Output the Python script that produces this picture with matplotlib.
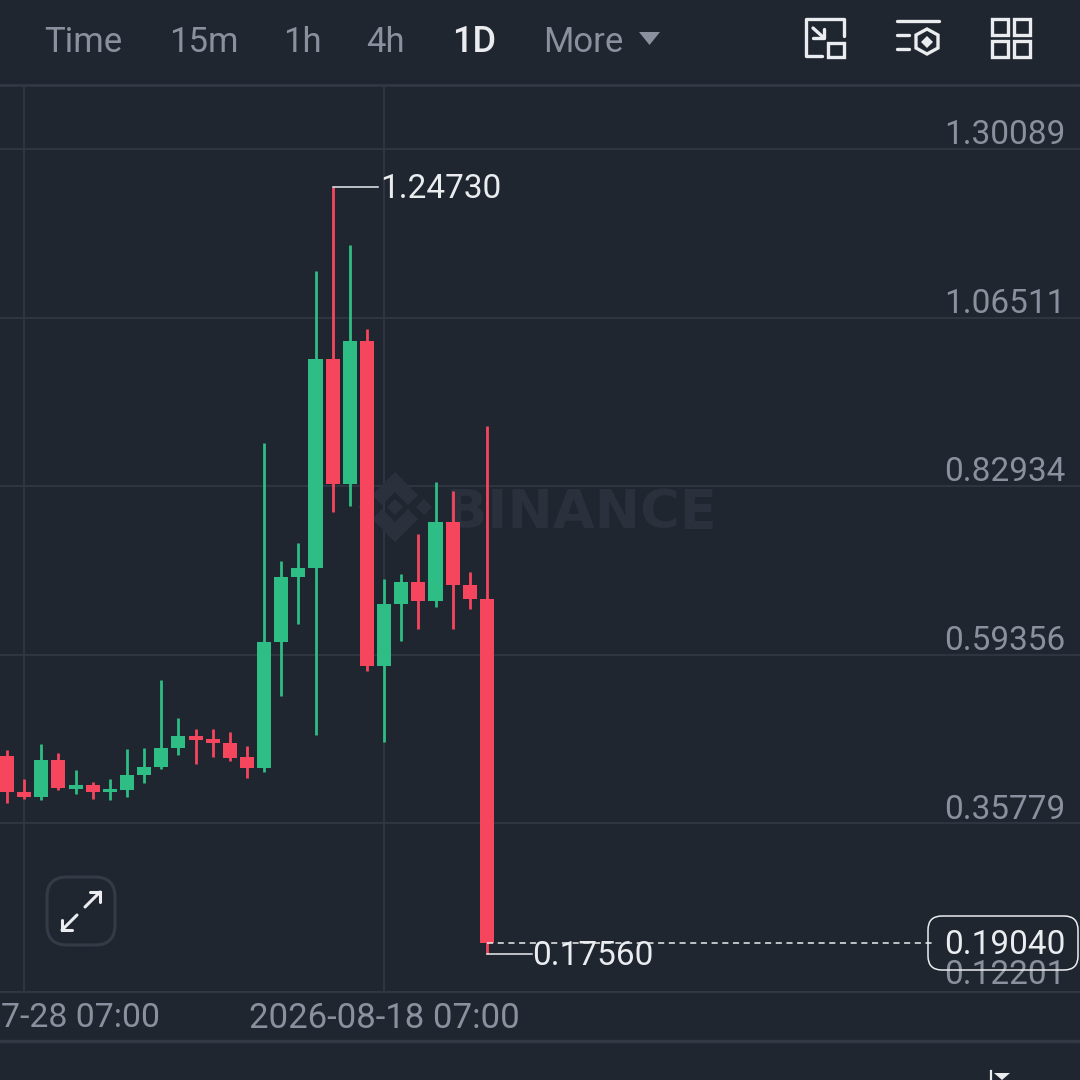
import matplotlib
matplotlib.use("Agg")
import matplotlib.pyplot as plt
from matplotlib.patches import FancyBboxPatch, Polygon, Rectangle

# daily candles, oldest first
opens = [0.4520, 0.4016, 0.3946, 0.4464, 0.4058, 0.4114, 0.4016, 0.4044, 0.4254, 0.4366,
         0.4632, 0.4800, 0.4758, 0.4702, 0.4506, 0.4352, 0.6114, 0.7023, 0.7149, 1.0072,
         0.8324, 1.0324, 0.5779, 0.6646, 0.6953, 0.6688, 0.7792, 0.6911, 0.6715]
closes = [0.4016, 0.3946, 0.4464, 0.4072, 0.4114, 0.4016, 0.4058, 0.4254, 0.4366, 0.4632,
          0.4800, 0.4744, 0.4702, 0.4492, 0.4352, 0.6114, 0.7023, 0.7149, 1.0072, 0.8324,
          1.0324, 0.5779, 0.6646, 0.6953, 0.6688, 0.7792, 0.6911, 0.6715, 0.1904]
highs = [0.4604, 0.4198, 0.4688, 0.4562, 0.4324, 0.4156, 0.4198, 0.4618, 0.4632, 0.5583,
         0.5052, 0.4898, 0.4898, 0.4856, 0.4660, 0.8897, 0.7247, 0.7499, 1.1303, 1.2473,
         1.1666, 1.0492, 0.6995, 0.7065, 0.7625, 0.8352, 0.8226, 0.7093, 0.9135]
lows = [0.3862, 0.3918, 0.3904, 0.4044, 0.3988, 0.3918, 0.3904, 0.3946, 0.4142, 0.4338,
        0.4534, 0.4408, 0.4506, 0.4450, 0.4212, 0.4296, 0.5359, 0.6366, 0.4814, 0.7932,
        0.8016, 0.5709, 0.4716, 0.6128, 0.6296, 0.6604, 0.6296, 0.6576, 0.1756]

price_ticks = [1.30089, 1.06511, 0.82934, 0.59356, 0.35779, 0.12201]
date_tick_pos = [1, 22]
date_tick_labels = ["7-28 07:00", "2026-08-18 07:00"]
last_price = 0.19040
intervals = ["Time", "15m", "1h", "4h", "1D", "More"]

BG = "#1f2630"
GRID = "#323944"
GREEN = "#2ebd85"
RED = "#f6465d"
MUTED = "#8a919e"
WHITE = "#eaecef"
WATERMARK = "#2a313c"
FONT = "Roboto"
NUM_SIZE = 24

plt.rcParams["font.family"] = [FONT, "DejaVu Sans"]

fig = plt.figure(figsize=(10.8, 10.8), dpi=100, facecolor=BG)

# chart area runs the full width, between the two divider lines
ax = fig.add_axes([0, 88 / 1080, 1, 907 / 1080], facecolor=BG)
ax.set_xlim(-0.408, 62.6)
ax.set_ylim(0.12201, 1.39045)
ax.set_axis_off()

# pixel overlay for the app chrome
ui = fig.add_axes([0, 0, 1, 1], facecolor="none")
ui.set_xlim(0, 1080)
ui.set_ylim(1080, 0)
ui.set_axis_off()

for p in price_ticks:
    # the bottom label sits a little higher above its line
    lift = 12 if p == price_ticks[-1] else 10
    ax.axhline(p, color=GRID, lw=1.2, zorder=1)
    ax.annotate(f"{p:.5f}", xy=(0.9865, p), xycoords=ax.get_yaxis_transform(),
                xytext=(0, lift), textcoords="offset points",
                ha="right", va="center", color=MUTED, fontsize=NUM_SIZE, zorder=6)
for d in date_tick_pos:
    ax.axvline(d, color=GRID, lw=1.2, zorder=1)

# watermark, under the candles
ax.text(0.413, 0.5285, "BINANCE", transform=ax.transAxes, color=WATERMARK, fontsize=39,
        family="DejaVu Sans", fontweight="bold", va="center", ha="left", zorder=2)
for pts in ([(395, 472), (418, 495), (408, 505), (395, 492), (382, 505), (372, 495)],
            [(395, 542), (418, 519), (408, 509), (395, 522), (382, 509), (372, 519)],
            [(395, 499), (403, 507), (395, 515), (387, 507)],
            [(424, 499), (432, 507), (424, 515), (416, 507)],
            [(366, 499), (374, 507), (366, 515), (358, 507)]):
    ax.add_patch(Polygon(pts, closed=True, color=WATERMARK, lw=0, zorder=2, transform=ui.transData))

for i in range(len(opens)):
    color = GREEN if closes[i] >= opens[i] else RED
    ax.vlines(i, lows[i], highs[i], color=color, lw=2.0, zorder=3)
    ax.bar(i, abs(closes[i] - opens[i]), width=0.82, bottom=min(opens[i], closes[i]),
           color=color, zorder=4)

# high and low markers
i_high = highs.index(max(highs))
i_low = lows.index(min(lows))
ax.plot([i_high, i_high + 2.65], [highs[i_high]] * 2, color=WHITE, lw=1.1, zorder=5)
ax.plot([i_low, i_low + 2.65], [lows[i_low]] * 2, color=WHITE, lw=1.1, zorder=5)
ax.annotate(f"{highs[i_high]:.5f}", xy=(i_high + 2.75, highs[i_high]), xytext=(0, -1.5),
            textcoords="offset points", ha="left", va="center", color=WHITE,
            fontsize=NUM_SIZE, zorder=6)
ax.annotate(f"{lows[i_low]:.5f}", xy=(i_low + 2.65, lows[i_low]), xytext=(0, -1.5),
            textcoords="offset points", ha="left", va="center", color=WHITE,
            fontsize=NUM_SIZE, zorder=6)

# last price line
ax.plot([len(opens) - 1, 54.2], [last_price, last_price], color=WHITE, lw=1.1,
        dashes=(4, 3), zorder=5)

for y, lw in [(84.5, 2.0), (992, 1.3), (1040.5, 2.4)]:
    ui.plot([0, 1080], [y, y], color=GRID, lw=lw)

x_pos = [44, 169, 283, 366, 452, 543]
for name, x in zip(intervals, x_pos):
    active = name == "1D"
    ui.text(x, 43, name, color=WHITE if active else MUTED, fontsize=26 if active else 25,
            fontweight="medium" if active else "normal", ha="left", va="center")
ui.add_patch(Polygon([(639, 32), (660, 32), (649.5, 45)], closed=True, color=MUTED, lw=0))

# date labels, only the visible part of the first one is written
ui.text(160, 1018, date_tick_labels[0], color=MUTED, fontsize=24.4, ha="right", va="center")
ui.text(ax.transData.transform((date_tick_pos[1], 0))[0], 1018, date_tick_labels[1],
        color=MUTED, fontsize=25, ha="center", va="center")

# last price box
ui.add_patch(FancyBboxPatch((942, 930), 122, 26, boxstyle="round,pad=14,rounding_size=14",
                            fc="none", ec=WHITE, lw=1.1))
ax.annotate(f"{last_price:.5f}", xy=(0.9865, last_price), xycoords=ax.get_yaxis_transform(),
            xytext=(0, -1.5), textcoords="offset points",
            ha="right", va="center", color=WHITE, fontsize=NUM_SIZE, zorder=6)

# expand button
ui.add_patch(FancyBboxPatch((61, 891), 40, 40, boxstyle="round,pad=14,rounding_size=20",
                            fc="none", ec="#343b47", lw=2.2))
for seg in ([(85, 907), (100, 892)], [(90, 892), (100, 892), (100, 902)],
            [(77, 915), (62, 930)], [(62, 920), (62, 930), (72, 930)]):
    ui.plot(*zip(*seg), color=WHITE, lw=2.2, solid_capstyle="round", solid_joinstyle="miter")

# toolbar icons
ICON = dict(color=WHITE, lw=2.4, solid_capstyle="round", solid_joinstyle="round")
ui.plot([844, 844, 806, 806, 822], [36, 19, 19, 56, 56], **ICON)
ui.add_patch(Rectangle((828, 43), 16, 14, fc="none", ec=WHITE, lw=2.4))
ui.plot([813, 824], [28, 38], **ICON)
ui.plot([813, 824, 824], [38, 38, 29], **ICON)

ui.plot([897, 939], [21, 21], **ICON)
ui.plot([897, 909], [35, 35], **ICON)
ui.plot([897, 909], [49, 49], **ICON)
ui.add_patch(Polygon([(927, 29), (938, 35), (938, 48), (927, 54), (916, 48), (916, 35)],
                     closed=True, fc="none", ec=WHITE, lw=2.4))
ui.add_patch(Polygon([(927, 36), (933, 42), (927, 48), (921, 42)], closed=True, color=WHITE, lw=0))

for x in (992, 1014):
    for y in (19, 41):
        ui.add_patch(Rectangle((x, y), 16, 16, fc="none", ec=WHITE, lw=2.4))

# bottom bar stub
ui.plot([991, 991], [1071, 1080], color=WHITE, lw=1.6)
ui.add_patch(Polygon([(994, 1073), (1010, 1073), (1002, 1080)], closed=True, color=WHITE, lw=0))

fig.savefig("out.png", dpi=100, facecolor=BG)
